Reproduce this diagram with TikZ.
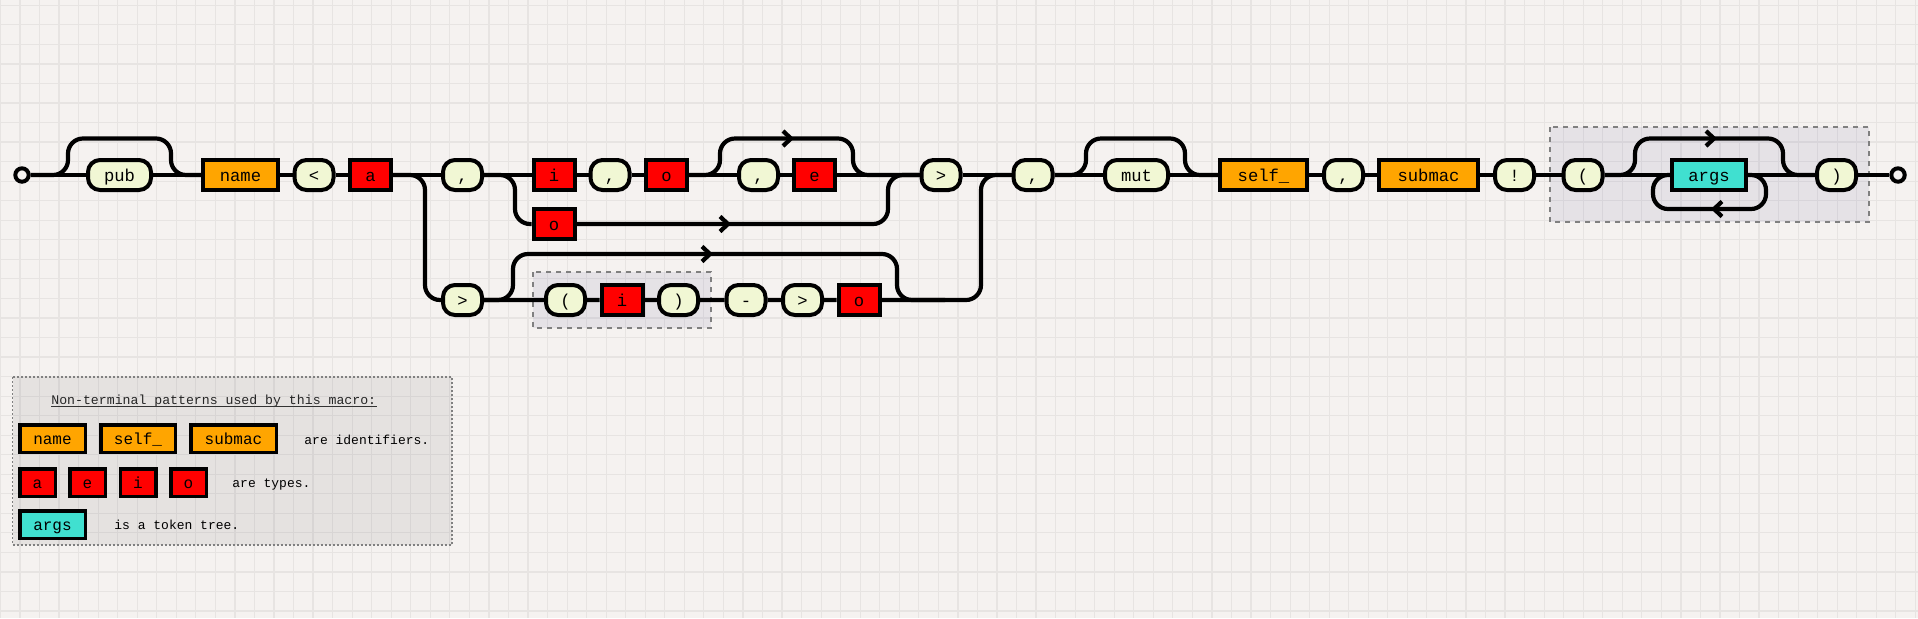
\documentclass[tikz,border=0pt]{standalone}
\usepackage{fontspec}
\newfontfamily\dmono{Liberation Mono}
\definecolor{bgc}{RGB}{245,242,240}
\definecolor{gridc}{RGB}{231,228,226}
\definecolor{termc}{RGB}{241,247,212}
\definecolor{identc}{RGB}{255,165,0}
\definecolor{tyc}{RGB}{255,0,0}
\definecolor{ttc}{RGB}{64,224,208}
\definecolor{grpc}{RGB}{90,90,150}
\definecolor{legc}{RGB}{90,90,90}
\pgfdeclarelayer{Lgrid}
\pgfdeclarelayer{Lgroup}
\pgfdeclarelayer{Lwire}
\pgfsetlayers{Lgrid,Lgroup,Lwire,main}
\tikzset{
  wire/.style={line width=2.1pt, rounded corners=7.5pt},
  dfont/.style={font=\dmono\fontsize{8.6pt}{10pt}\selectfont, text height=7.4pt, text depth=0.9pt},
  lfont/.style={font=\dmono\fontsize{8pt}{10pt}\selectfont, text height=7pt, text depth=0.8pt},
  tnode/.style={draw, line width=2pt, fill=termc, rounded corners=6pt, minimum height=15pt, inner sep=0pt, dfont, minimum width=#1},
  tnode/.default=19.5pt,
  ntbox/.style={draw, line width=2pt, minimum height=15pt, inner sep=0pt, dfont, minimum width=#1},
  identbox/.style={ntbox=#1, fill=identc},
  tybox/.style={ntbox=20.5pt, fill=tyc},
  ttbox/.style={ntbox=#1, fill=ttc},
  lbox/.style={draw, line width=1.75pt, minimum height=13.75pt, inner sep=0pt, lfont, minimum width=#1},
  lident/.style={lbox=#1, fill=identc},
  ltybox/.style={lbox=17.75pt, fill=tyc},
  lttbox/.style={lbox=#1, fill=ttc},
  ltext/.style={anchor=base west, inner sep=0pt, font=\dmono\fontsize{6.5pt}{8pt}\selectfont},
  endpt/.style={circle, draw, line width=2pt, fill=bgc, minimum size=6.7pt, inner sep=0pt},
  grp/.style={draw=gray, line width=0.75pt, dash pattern=on 2.5pt off 2.5pt, fill=grpc, fill opacity=0.1},
  legbox/.style={draw=gray, line width=0.6pt, dash pattern=on 1pt off 1pt, fill=legc, fill opacity=0.1},
  chev/.pic={\draw[line width=2.1pt] (-8,-7.5) -- (0,0) -- (-8,7.5);},
}
\begin{document}
\begin{tikzpicture}[x=0.5pt,y=-0.5pt]
\useasboundingbox (0,0) rectangle (1918,618);
\begin{pgfonlayer}{Lgrid}
  \fill[bgc] (0,0) rectangle (1918,618);
  \foreach \i in {0,...,98} \draw[gridc, line width=0.6pt] ({0.45+19.54*\i},0) -- ++(0,618);
  \foreach \j in {0,...,31} \draw[gridc, line width=0.6pt] (0,{5.3+19.54*\j}) -- ++(1918,0);
\end{pgfonlayer}

% nodes
\node[endpt] (start) at (22,175) {};
\node[tnode=31.5pt] (pub) at (119.5,175) {pub};
\node[identbox=37.5pt] (name) at (240.5,175) {name};
\node[tnode] (lt) at (314,175) {<};
\node[tybox] (a) at (370.5,175) {a};
\node[tnode] (c1) at (462.5,175) {,};
\node[tybox] (i1) at (554,175) {i};
\node[tnode] (c2) at (610,175) {,};
\node[tybox] (o1) at (666.5,175) {o};
\node[tnode] (c3) at (758.5,175) {,};
\node[tybox] (e) at (814.5,175) {e};
\node[tybox] (o2) at (554,224) {o};
\node[tnode] (gt1) at (941,175) {>};
\node[tnode] (gt2) at (462.5,300) {>};
\node[tnode] (lp1) at (565.5,300) {(};
\node[tybox] (i2) at (622,300) {i};
\node[tnode] (rp1) at (678.5,300) {)};
\node[tnode] (minus) at (746,300) {-};
\node[tnode] (gt3) at (802.5,300) {>};
\node[tybox] (o3) at (859,300) {o};
\node[tnode] (c4) at (1033,175) {,};
\node[tnode=31.5pt] (mut) at (1136.5,175) {mut};
\node[identbox=43.5pt] (self) at (1263.5,175) {self\_};
\node[tnode] (c5) at (1343.5,175) {,};
\node[identbox=49.5pt] (submac) at (1428.5,175) {submac};
\node[tnode] (bang) at (1514.5,175) {!};
\node[tnode] (lp2) at (1583,175) {(};
\node[ttbox=37pt] (args) at (1709,175) {args};
\node[tnode] (rp2) at (1836.5,175) {)};
\node[endpt] (end) at (1898,175) {};

\coordinate (j3) at (981,300);
\coordinate (j3b) at (945,300);

\begin{pgfonlayer}{Lgroup}
  \draw[grp] (533,272) rectangle (711,328);
  \draw[grp] (1550,127) rectangle (1869,222);
  \draw[legbox] (12.7,377) rectangle (452,545);
\end{pgfonlayer}

\begin{pgfonlayer}{Lwire}
  \draw[wire] (start) -- (pub) -- (name) -- (lt) -- (a) -- (c1) -- (i1) -- (c2) -- (o1) -- (c3) -- (e) -- (gt1) -- (c4) -- (mut) -- (self) -- (c5) -- (submac) -- (bang) -- (lp2) -- (args) -- (rp2) -- (end);
  \draw[wire] (start) -- (68,175) -- (68,138.5) -- (171,138.5) -- (171,175) -- (name);
  \draw[wire] (a) -- (425,175) -- (425,300) -- (gt2);
  \draw[wire] (c1) -- (515,175) -- (515,224) -- (o2);
  \draw[wire] (o1) -- (720,175) -- (720,138.5) -- (853,138.5) -- (853,175) -- (gt1);
  \draw[wire] (o2) -- (888,224) -- (888,175) -- (gt1);
  \draw[wire] (gt2) -- (lp1) -- (i2) -- (rp1) -- (minus) -- (gt3) -- (o3) -- (j3) -- (981,175) -- (c4);
  \draw[wire] (gt2) -- (513,300) -- (513,254) -- (897,254) -- (897,300) -- (j3b);
  \draw[wire] (c4) -- (1086,175) -- (1086,138.5) -- (1185,138.5) -- (1185,175) -- (self);
  \draw[wire] (lp2) -- (1635,175) -- (1635,138.5) -- (1783,138.5) -- (1783,175) -- (rp2);
  \draw[wire] (args.center) -- (1766,175) -- (1766,209) -- (1653,209) -- (1653,175) -- (args.center);
  \pic at (791,138.5) {chev};
  \pic at (728,224) {chev};
  \pic at (710,254) {chev};
  \pic at (1714,138.5) {chev};
  \pic[xscale=-1] at (1714,209) {chev};
\end{pgfonlayer}

% legend
\node[anchor=base west, inner sep=0pt, font=\dmono\fontsize{6.6pt}{8pt}\selectfont, text=black!85] (ttl) at (51,404) {Non-terminal patterns used by this macro:};
\draw[line width=0.5pt, black!80] ([yshift=-1.1pt]ttl.base west) -- ([yshift=-1.1pt]ttl.base east);
\node[lident=32.75pt] (lname) at (52.5,438.5) {name};
\node[lident=37.25pt] (lself) at (138,438.5) {self\_};
\node[lident=42.75pt] (lsub) at (233.5,438.5) {submac};
\node[ltext] (tident) at (304,444) {are identifiers.};
\node[ltybox] (la) at (37.5,482.5) {a};
\node[ltybox] (le) at (87.5,482.5) {e};
\node[ltybox] (li) at (138,482.5) {i};
\node[ltybox] (lo) at (188.5,482.5) {o};
\node[ltext] (ttypes) at (232,487) {are types.};
\node[lttbox=32.75pt] (largs) at (52.5,524.5) {args};
\node[ltext] (ttt) at (114,529) {is a token tree.};
\end{tikzpicture}
\end{document}
